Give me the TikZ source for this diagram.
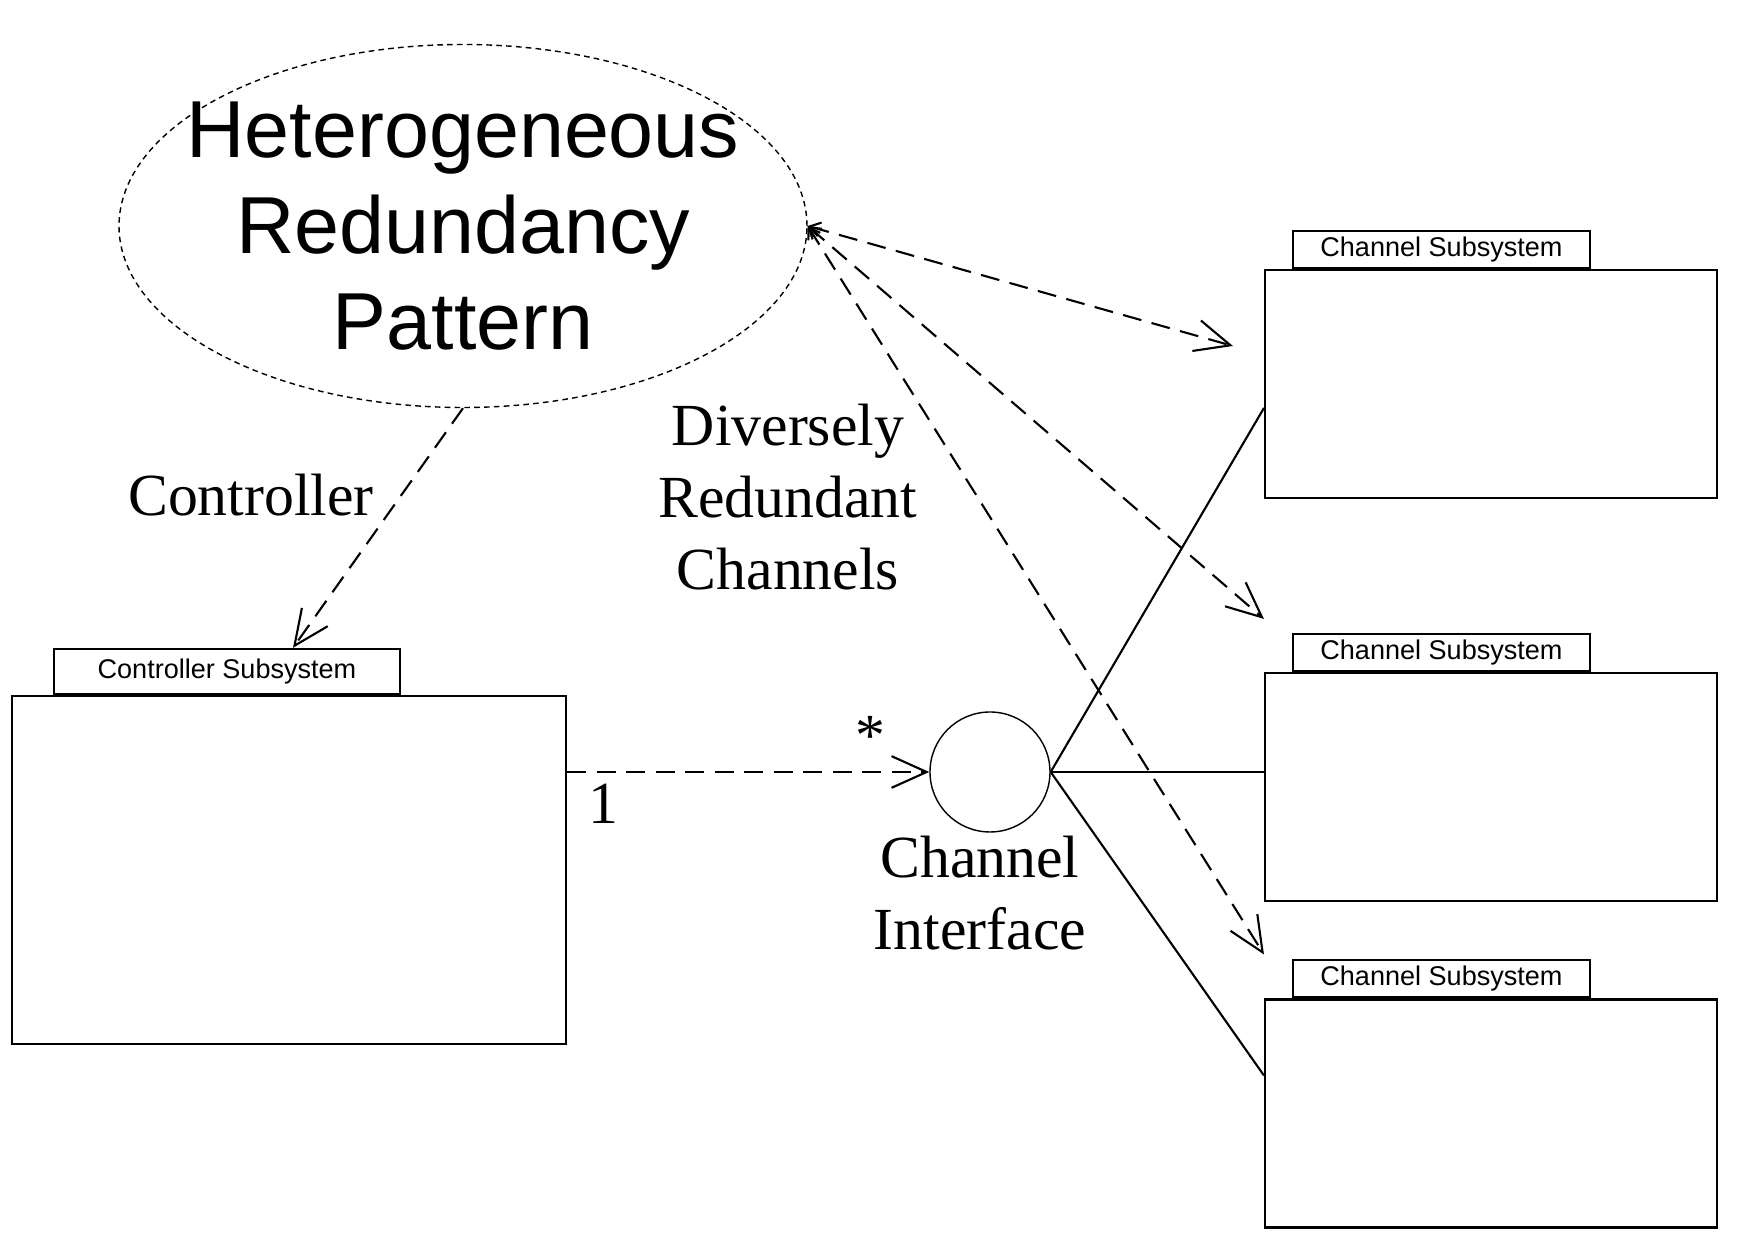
\documentclass[tikz,border=0pt]{standalone}
\usepackage{fontspec}
\setmainfont{Liberation Serif}
\setsansfont{Liberation Sans}
\usetikzlibrary{shapes.geometric}
\usetikzlibrary{arrows.meta}
\usetikzlibrary{calc}
\usetikzlibrary{positioning}
\def\thickness{0.6pt}
\tikzstyle{pkgbody}=[draw, rectangle, inner sep=0pt, line width=\thickness]
\tikzstyle{pkgtab}=[draw, rectangle, inner sep=0pt, line width=\thickness, anchor=south west, font=\sffamily\fontsize{7.7}{9}\selectfont]
\tikzstyle{chbody}=[pkgbody, minimum width=4.52cm, minimum height=2.28cm]
\tikzstyle{chtab}=[pkgtab, minimum width=2.97cm, minimum height=0.37cm]
\tikzstyle{usecase}=[ellipse, draw, dash pattern=on 1.6pt off 1.2pt, line width=0.4pt, minimum width=6.88cm, minimum height=3.63cm, inner sep=0pt]
\tikzstyle{ucname}=[align=center, inner sep=0pt, font=\sffamily\fontsize{23}{27.3}\selectfont]
\tikzstyle{iface}=[circle, draw, line width=0.4pt, minimum size=1.2cm, inner sep=0pt]
\tikzstyle{lbl}=[align=center, font=\fontsize{17}{20.5}\selectfont]
\tikzstyle{link}=[line width=\thickness]
\tikzset{dep/.style={dash pattern=on 5.4pt off 3pt, line width=\thickness, arrows={-Straight Barb[length=10pt,width=9pt]}}}
\tikzset{role/.style={dep, arrows={Straight Barb[length=3pt,width=4pt]-Straight Barb[length=10pt,width=9pt]}}}

\begin{document}
\begin{tikzpicture}
\useasboundingbox (0,0) rectangle (17.51,12.44);
% pattern
\node [usecase] (hrp) at (4.63,10.18) {};
\node [ucname] (hrpname) at (hrp.center) {Heterogeneous\\Redundancy\\Pattern};
% controller package
\node [pkgbody, minimum width=5.54cm, minimum height=3.48cm] (ctrl) at (2.89,3.74) {};
\node [pkgtab, minimum width=3.46cm, minimum height=0.45cm] (ctrltab) at ($(ctrl.north west)+(0.42,0)$) {Controller Subsystem};
% channel packages
\node [chbody] (ch1) at (14.91,8.60) {};
\node [chbody] (ch2) at (14.91,4.57) {};
\node [chbody] (ch3) at (14.91,1.305) {};
\foreach \c in {ch1,ch2,ch3}
  \node [chtab] (\c tab) at ($(\c.north west)+(0.28,0)$) {Channel Subsystem};
% interface
\node [iface] (ci) at (9.90,4.72) {};
\node [lbl, inner sep=0pt, below=0.03cm of ci, xshift=-0.1cm] (cilbl) {Channel\\Interface};
% labels
\node [lbl] (ctrllbl) at (2.51,7.49) {Controller};
\node [lbl] (drc) at (7.88,7.47) {Diversely\\Redundant\\Channels};
\node [lbl] (m1) at (6.03,4.40) {1};
\node [lbl] (mn) at (8.70,5.08) {*};
% arrow ends
\coordinate (ctrlin) at ($(ctrltab.north)+(0.66,0)$);
\coordinate (in1) at ($(ch1.west)+(-0.31,0.38)$);
\coordinate (in2) at ($(ch2.north west)+(0,0.53)$);
\coordinate (in3) at ($(ch3.north west)+(0,0.44)$);
% connectors
\draw [dep] (hrp.south) -- (ctrlin);
\draw [dep] (ctrl.east |- ci.west) -- (ci.west);
\draw [role] (hrp.east) -- (in1);
\draw [role] (hrp.east) -- (in2);
\draw [role] (hrp.east) -- (in3);
\draw [link] (ci.east) -- ($(ch1.west)+(0,-0.24)$);
\draw [link] (ci.east) -- (ci.east -| ch2.west);
\draw [link] (ci.east) -- ($(ch3.west)+(0,0.38)$);
\end{tikzpicture}
\end{document}
